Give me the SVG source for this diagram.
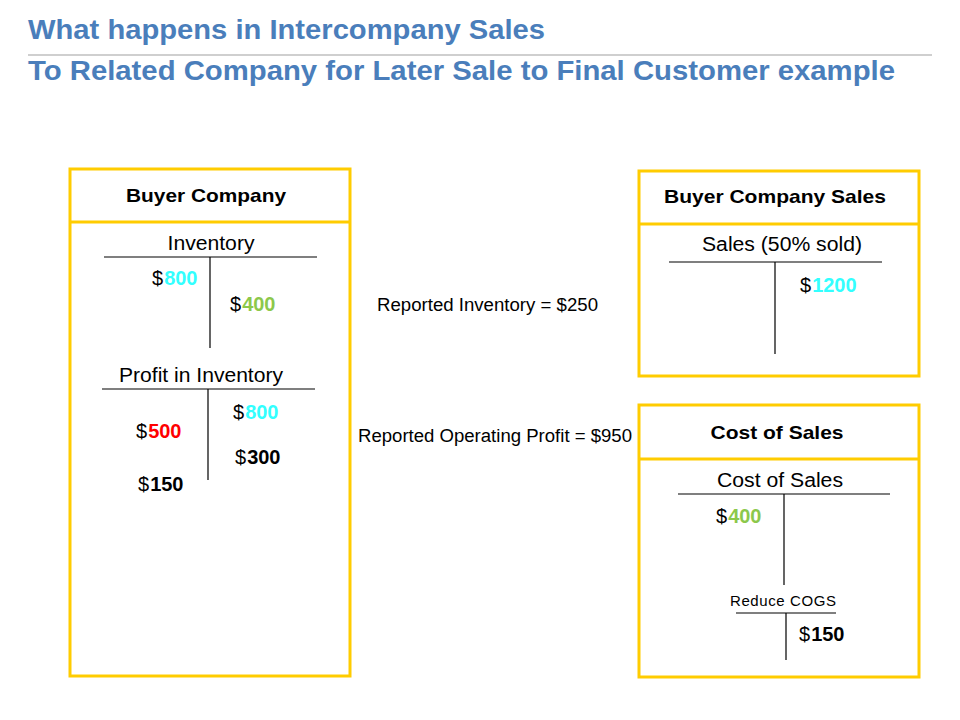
<svg xmlns="http://www.w3.org/2000/svg" width="960" height="720" viewBox="0 0 960 720">
<style>
text{font-family:"Liberation Sans",Arial,sans-serif;fill:#000}
.title{font-size:27px;font-weight:bold;fill:#4A7EBB}
.box{fill:#fff;stroke:#FFCC00;stroke-width:3}
.hd{font-size:19px;font-weight:bold;text-anchor:middle}
.tl{font-size:20px;text-anchor:middle}
.ln{stroke:#000;stroke-width:1.2;fill:none}
.amt{font-size:20px}
.b{font-weight:bold}
.cy{fill:#33FFFF}
.gr{fill:#8CC84B}
.rd{fill:#FF0000}
.mid{font-size:18px}
</style>
<rect width="960" height="720" fill="#fff"/>
<g id="titles">
<text class="title" x="28" y="39" textLength="517" lengthAdjust="spacingAndGlyphs">What happens in Intercompany Sales</text>
<line x1="28" y1="55" x2="932" y2="55" stroke="#BFBFBF" stroke-width="1.5"/>
<text class="title" x="28" y="80" textLength="867" lengthAdjust="spacingAndGlyphs">To Related Company for Later Sale to Final Customer example</text>
</g>
<g id="buyer-company">
<rect class="box" x="70" y="169" width="280" height="507"/>
<line x1="70" y1="222" x2="350" y2="222" stroke="#FFCC00" stroke-width="3"/>
<text class="hd" x="206" y="202" textLength="160" lengthAdjust="spacingAndGlyphs">Buyer Company</text>
<text class="tl" x="211" y="250" textLength="87" lengthAdjust="spacingAndGlyphs">Inventory</text>
<path class="ln" d="M104 257H317M210 257V348"/>
<text class="amt" x="152" y="285">$<tspan class="b cy" dx="1">800</tspan></text>
<text class="amt" x="230" y="311">$<tspan class="b gr" dx="1">400</tspan></text>
<text class="tl" x="201" y="382" textLength="164" lengthAdjust="spacingAndGlyphs">Profit in Inventory</text>
<path class="ln" d="M102 389H315M208 389V480"/>
<text class="amt" x="233" y="419">$<tspan class="b cy" dx="1">800</tspan></text>
<text class="amt" x="136" y="438">$<tspan class="b rd" dx="1">500</tspan></text>
<text class="amt" x="235" y="464">$<tspan class="b" dx="1">300</tspan></text>
<text class="amt" x="138" y="491">$<tspan class="b" dx="1">150</tspan></text>
</g>
<g id="reported">
<text class="mid" x="377" y="311" textLength="221" lengthAdjust="spacingAndGlyphs">Reported Inventory = $250</text>
<text class="mid" x="358" y="442" textLength="274" lengthAdjust="spacingAndGlyphs">Reported Operating Profit = $950</text>
</g>
<g id="buyer-company-sales">
<rect class="box" x="639" y="171" width="280" height="205"/>
<line x1="639" y1="224" x2="919" y2="224" stroke="#FFCC00" stroke-width="3"/>
<text class="hd" x="775" y="203" textLength="222" lengthAdjust="spacingAndGlyphs">Buyer Company Sales</text>
<text class="tl" x="782" y="251" textLength="160" lengthAdjust="spacingAndGlyphs">Sales (50% sold)</text>
<path class="ln" d="M669 262H882M775 262V354"/>
<text class="amt" x="800" y="292">$<tspan class="b cy" dx="1">1200</tspan></text>
</g>
<g id="cost-of-sales">
<rect class="box" x="639" y="405" width="280" height="272"/>
<line x1="639" y1="459" x2="919" y2="459" stroke="#FFCC00" stroke-width="3"/>
<text class="hd" x="777" y="439" textLength="133" lengthAdjust="spacingAndGlyphs">Cost of Sales</text>
<text class="tl" x="780" y="487" textLength="126" lengthAdjust="spacingAndGlyphs">Cost of Sales</text>
<path class="ln" d="M678 494H890M784 494V585"/>
<text class="amt" x="716" y="523">$<tspan class="b gr" dx="1">400</tspan></text>
<text x="783" y="606" font-size="15" text-anchor="middle" textLength="106" lengthAdjust="spacing">Reduce COGS</text>
<path class="ln" d="M736 613H836M786 613V660"/>
<text class="amt" x="799" y="641">$<tspan class="b" dx="1">150</tspan></text>
</g>
</svg>
